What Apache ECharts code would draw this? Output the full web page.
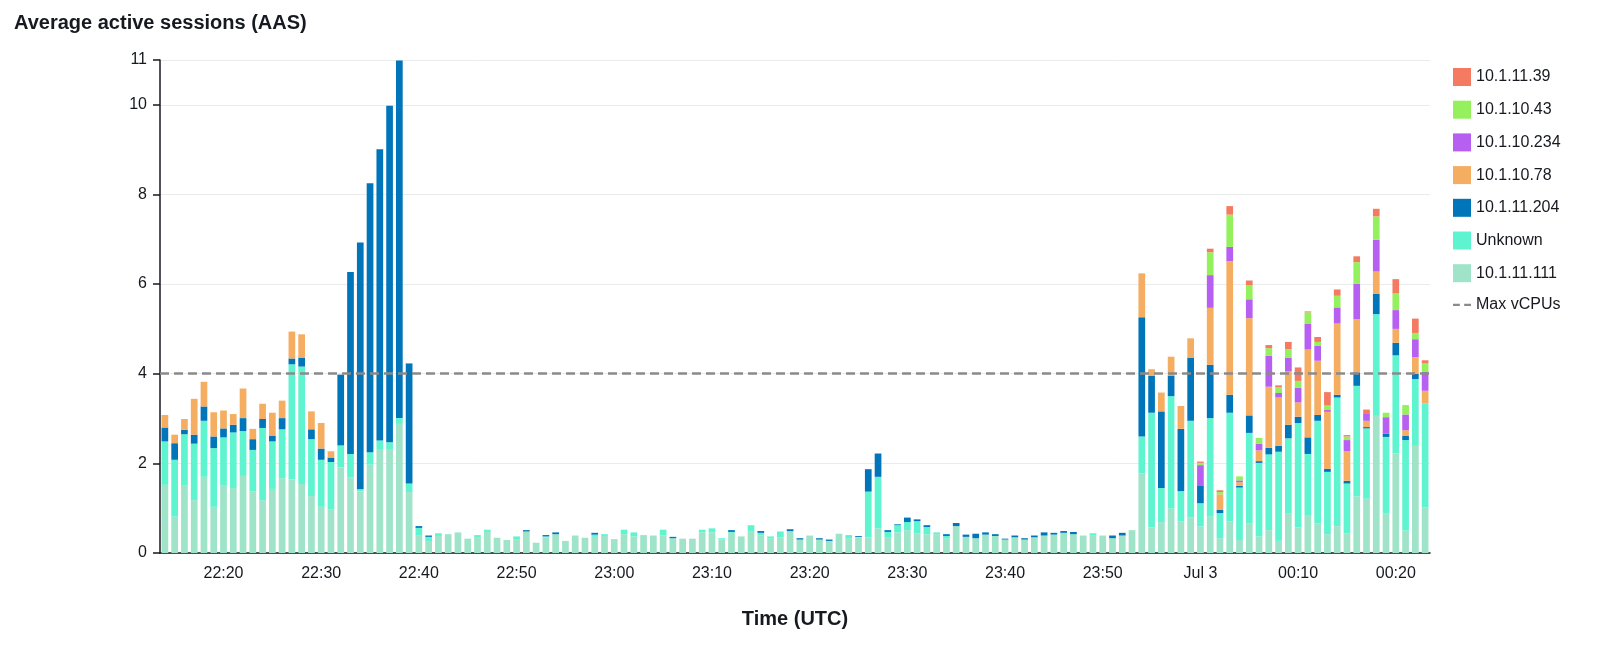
<!DOCTYPE html>
<html>
<head>
<meta charset="utf-8">
<script src="https://cdn.jsdelivr.net/npm/echarts@6/dist/echarts.min.js"></script>
<style>html,body{margin:0;padding:0;background:#fff}#chart{width:1600px;height:645px}</style>
</head>
<body>
<div id="chart"></div>
<script>
const categories = [
'22:14','22:15','22:16','22:17','22:18','22:19','22:20','22:21','22:22','22:23','22:24','22:25','22:26','22:27','22:28','22:29',
'22:30','22:31','22:32','22:33','22:34','22:35','22:36','22:37','22:38','22:39','22:40','22:41','22:42','22:43','22:44','22:45',
'22:46','22:47','22:48','22:49','22:50','22:51','22:52','22:53','22:54','22:55','22:56','22:57','22:58','22:59',
'23:00','23:01','23:02','23:03','23:04','23:05','23:06','23:07','23:08','23:09','23:10','23:11','23:12','23:13','23:14','23:15',
'23:16','23:17','23:18','23:19','23:20','23:21','23:22','23:23','23:24','23:25','23:26','23:27','23:28','23:29','23:30','23:31',
'23:32','23:33','23:34','23:35','23:36','23:37','23:38','23:39','23:40','23:41','23:42','23:43','23:44','23:45','23:46','23:47',
'23:48','23:49','23:50','23:51','23:52','23:53','23:54','23:55','23:56','23:57','23:58','23:59',
'00:00','00:01','00:02','00:03','00:04','00:05','00:06','00:07','00:08','00:09','00:10','00:11','00:12','00:13','00:14','00:15',
'00:16','00:17','00:18','00:19','00:20','00:21','00:22','00:23'
];
const xTickTimes  = ['22:20','22:30','22:40','22:50','23:00','23:10','23:20','23:30','23:40','23:50','00:00','00:10','00:20'];
const xTickLabels = ['22:20','22:30','22:40','22:50','23:00','23:10','23:20','23:30','23:40','23:50','Jul 3','00:10','00:20'];

// 10.1.11.111 (bottom of stack)
const s111 = [
1.52,0.81,1.50,1.18,1.70,1.03,1.50,1.45,1.72,1.37,
1.18,1.43,1.67,1.64,1.54,1.27,1.03,0.98,1.91,1.68,
1.37,1.97,2.32,2.32,2.88,1.36,0.40,0.25,0.38,0.42,
0.46,0.32,0.34,0.47,0.34,0.29,0.31,0.47,0.23,0.35,
0.42,0.27,0.39,0.34,0.36,0.38,0.31,0.42,0.37,0.40,
0.39,0.39,0.32,0.32,0.32,0.46,0.46,0.30,0.45,0.37,
0.49,0.39,0.32,0.35,0.47,0.30,0.39,0.30,0.27,0.43,
0.32,0.35,0.35,0.55,0.34,0.46,0.51,0.44,0.42,0.42,
0.32,0.60,0.36,0.33,0.41,0.38,0.30,0.35,0.30,0.35,
0.39,0.41,0.45,0.42,0.39,0.40,0.39,0.33,0.39,0.51,
1.78,0.57,0.69,0.99,0.71,0.80,0.59,0.81,0.33,0.71,
0.29,0.66,0.37,0.51,0.27,0.89,0.57,0.83,0.66,0.42,
0.60,0.44,1.26,1.21,3.06,0.89,2.22,0.50,2.39,1.02
];
// Unknown
const sUnknown = [
0.97,1.27,1.15,1.26,1.25,1.31,1.08,1.24,1.00,0.93,
1.61,1.06,1.09,2.57,2.62,1.27,1.05,1.05,0.49,0.53,
0.05,0.28,0.19,0.15,0.13,0.19,0.16,0.11,0.06,0,
0,0,0.06,0.05,0,0,0.06,0.01,0,0.02,
0,0,0,0,0.05,0.04,0,0.10,0.09,0,
0,0.13,0.01,0,0,0.06,0.09,0.03,0.02,0,
0.13,0.06,0.05,0.13,0.02,0,0,0,0,0,
0.08,0.01,1.02,1.15,0.13,0.16,0.18,0.27,0.16,0.04,
0.06,0,0,0,0,0,0,0,0,0,
0,0,0,0,0,0.04,0,0,0,0,
0.82,2.56,0.76,2.51,0.67,2.15,0.52,2.20,0.56,2.42,
1.17,2.02,1.64,1.69,1.99,1.67,2.33,1.38,2.29,1.39,
2.87,1.11,2.47,1.57,2.27,1.70,2.19,2.02,1.49,2.32
];
// 10.1.11.204
const s204 = [
0.31,0.37,0.10,0.20,0.32,0.26,0.20,0.17,0.29,0.24,
0.20,0.13,0.25,0.13,0.20,0.22,0.25,0.10,1.58,4.06,
5.51,6.00,6.50,7.51,7.98,2.68,0.04,0.03,0,0,
0,0,0,0,0,0,0,0.03,0,0.03,
0.04,0,0,0,0.04,0,0,0,0,0,
0,0,0.03,0,0,0,0,0,0.04,0,
0,0.04,0,0,0.04,0.03,0,0.03,0.03,0,
0,0.02,0.50,0.52,0.04,0.02,0.10,0.04,0.04,0,
0.04,0.07,0.05,0.10,0.05,0.04,0.02,0.04,0.03,0.04,
0.07,0.04,0.04,0.05,0,0,0,0.06,0.06,0,
2.66,0.82,1.71,0.46,1.39,1.41,0.40,1.19,0.07,0.40,
0.04,0.39,0.04,0.15,0.13,0.30,0.14,0.37,0.13,0.07,
0.06,0.06,0.30,0.03,0.45,0.07,0.28,0.09,0.12,0
];
// 10.1.10.78
const s78 = [
0.28,0.19,0.24,0.80,0.55,0.54,0.40,0.24,0.66,0.23,
0.34,0.51,0.39,0.60,0.52,0.40,0.57,0.14,0,0,
0,0,0,0,0,0,0,0,0,0,
0,0,0,0,0,0,0,0,0,0,
0,0,0,0,0,0,0,0,0,0,
0,0,0,0,0,0,0,0,0,0,
0,0,0,0,0,0,0,0,0,0,
0,0,0,0,0,0,0,0,0,0,
0,0,0,0,0,0,0,0,0,0,
0,0,0,0,0,0,0,0,0,0,
0.98,0.15,0.42,0.42,0.51,0.43,0,1.27,0.35,2.98,
0.08,2.17,0.24,1.36,1.08,1.19,0.32,1.96,1.21,1.27,
1.59,0.66,1.19,0.14,0.50,0,0.31,0.13,0.37,0.28
];
// 10.1.10.234
const s234 = [
0,0,0,0,0,0,0,0,0,0, 0,0,0,0,0,0,0,0,0,0,
0,0,0,0,0,0,0,0,0,0, 0,0,0,0,0,0,0,0,0,0,
0,0,0,0,0,0,0,0,0,0, 0,0,0,0,0,0,0,0,0,0,
0,0,0,0,0,0,0,0,0,0, 0,0,0,0,0,0,0,0,0,0,
0,0,0,0,0,0,0,0,0,0, 0,0,0,0,0,0,0,0,0,0,
0,0,0,0,0,0,0.45,0.73,0,0.32,
0.04,0.42,0.15,0.69,0.10,0.31,0.33,0.58,0.33,0.04,
0.36,0.25,0.79,0.17,0.71,0.37,0.42,0.35,0.40,0.42
];
// 10.1.10.43
const s43 = [
0,0,0,0,0,0,0,0,0,0, 0,0,0,0,0,0,0,0,0,0,
0,0,0,0,0,0,0,0,0,0, 0,0,0,0,0,0,0,0,0,0,
0,0,0,0,0,0,0,0,0,0, 0,0,0,0,0,0,0,0,0,0,
0,0,0,0,0,0,0,0,0,0, 0,0,0,0,0,0,0,0,0,0,
0,0,0,0,0,0,0,0,0,0, 0,0,0,0,0,0,0,0,0,0,
0,0,0,0,0,0,0.05,0.51,0.05,0.72,
0.09,0.31,0.13,0.17,0.13,0.19,0.15,0.25,0.09,0.10,
0.26,0.08,0.48,0,0.52,0.10,0.37,0.21,0.14,0.19
];
// 10.1.11.39 (top of stack)
const s39 = [
0,0,0,0,0,0,0,0,0,0, 0,0,0,0,0,0,0,0,0,0,
0,0,0,0,0,0,0,0,0,0, 0,0,0,0,0,0,0,0,0,0,
0,0,0,0,0,0,0,0,0,0, 0,0,0,0,0,0,0,0,0,0,
0,0,0,0,0,0,0,0,0,0, 0,0,0,0,0,0,0,0,0,0,
0,0,0,0,0,0,0,0,0,0, 0,0,0,0,0,0,0,0,0,0,
0,0,0,0,0,0,0.03,0.08,0.04,0.19,
0,0.11,0,0.07,0.04,0.16,0.30,0.02,0.11,0.30,
0.14,0.03,0.13,0.08,0.17,0,0.32,0,0.32,0.07
];
const maxVcpus = 4;

const seriesDefs = [
  { name: '10.1.11.111', data: s111, color: '#9fe4c8' },
  { name: 'Unknown', data: sUnknown, color: '#5ff4d0' },
  { name: '10.1.11.204', data: s204, color: '#0175b9' },
  { name: '10.1.10.78', data: s78, color: '#f5ad62' },
  { name: '10.1.10.234', data: s234, color: '#b75ff0' },
  { name: '10.1.10.43', data: s43, color: '#94f05d' },
  { name: '10.1.11.39', data: s39, color: '#f47a62' }
];

const FONT = '"Liberation Sans", Arial, Helvetica, sans-serif';
const TXT = '#16191f';
const showTick = (i, v) => xTickTimes.indexOf(v) >= 0;

const chart = echarts.init(document.getElementById('chart'), null, { renderer: 'canvas' });
const option = {
  animation: false,
  textStyle: { fontFamily: FONT },
  title: {
    text: 'Average active sessions (AAS)',
    left: 14, top: 13, padding: 0,
    textStyle: { fontSize: 20, fontWeight: 'bold', color: TXT, fontFamily: FONT }
  },
  legend: {
    orient: 'vertical', left: 1453, top: 68, padding: 0,
    itemWidth: 18, itemHeight: 18, itemGap: 14.7,
    icon: 'rect',
    selectedMode: false,
    textStyle: { fontSize: 16, color: TXT, fontFamily: FONT },
    data: ['10.1.11.39', '10.1.10.43', '10.1.10.234', '10.1.10.78', '10.1.11.204', 'Unknown', '10.1.11.111',
      { name: 'Max vCPUs', icon: 'path://M0,0h7v2.4h-7z M11.5,0h7v2.4h-7z', itemStyle: { color: '#8a8a8a' } }]
  },
  grid: { left: 160, right: 170, top: 60, bottom: 92, containLabel: false, outerBoundsMode: 'none' },
  xAxis: {
    type: 'category', data: categories, boundaryGap: true,
    axisLine: { lineStyle: { color: TXT, width: 1.5 } },
    axisTick: { alignWithLabel: true, interval: showTick, length: 6, lineStyle: { color: TXT, width: 1.5 } },
    axisLabel: {
      interval: showTick, fontSize: 16, margin: 13, color: TXT, fontFamily: FONT,
      formatter: v => { const k = xTickTimes.indexOf(v); return k >= 0 ? xTickLabels[k] : v; }
    },
    splitLine: { show: false },
    name: 'Time (UTC)', nameLocation: 'middle', nameGap: 56,
    nameTextStyle: { fontSize: 20, fontWeight: 'bold', color: TXT, fontFamily: FONT }
  },
  yAxis: {
    type: 'value', min: 0, max: 11, interval: 2,
    axisLine: { show: true, lineStyle: { color: TXT, width: 1.5 } },
    axisTick: { show: true, length: 7, lineStyle: { color: TXT, width: 1.5 } },
    axisLabel: { fontSize: 16, margin: 13, color: TXT, fontFamily: FONT },
    splitLine: { lineStyle: { color: '#e9ebed', width: 1 } }
  },
  series: seriesDefs.map(d => ({
    name: d.name, type: 'bar', stack: 'aas', data: d.data,
    barWidth: 6.7,
    itemStyle: { color: d.color },
    emphasis: { disabled: true }
  })).concat([{
    name: 'Max vCPUs', type: 'line', data: [], z: 5,
    itemStyle: { color: '#8a8a8a' },
    lineStyle: { color: '#8a8a8a', type: [9, 5], width: 2.5 },
    markLine: {
      silent: true, symbol: ['none', 'none'], animation: false,
      label: { show: false },
      lineStyle: { color: '#8a8a8a', type: [9, 5], width: 2.5 },
      data: [{ yAxis: maxVcpus }]
    }
  }])
};
chart.setOption(option);
</script>
</body>
</html>
